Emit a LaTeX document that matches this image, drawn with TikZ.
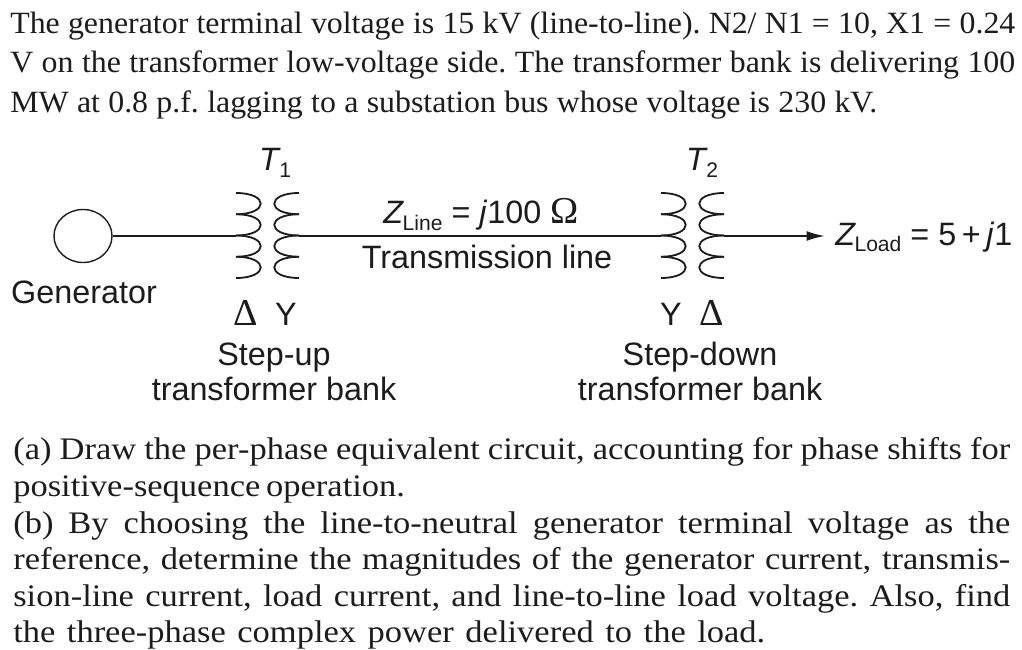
\documentclass[tikz,border=0pt]{standalone}
\usepackage{fontspec}
\setmainfont{Liberation Sans}
\newfontfamily\bodyfont{Liberation Serif}
\newfontfamily\topfont[FakeStretch=1.03]{Liberation Serif}
\newfontfamily\askfont[FakeStretch=1.1]{Liberation Serif}
\usetikzlibrary{arrows.meta,shapes.geometric}

\newlength{\pxu}
\setlength{\pxu}{0.025cm}
\definecolor{inkcol}{HTML}{1C1C1C}
\frenchspacing
\newcommand{\fitline}[2]{\makebox[#1\pxu][s]{#2}}
\newcommand{\subtxt}[1]{\kern-1pt\raisebox{-4.5pt}{\fontsize{15}{15}\selectfont #1}}
\newcommand{\serifsym}[1]{{\bodyfont\fontsize{27}{27}\selectfont #1}}
% four humps of a winding, dir = +1 bulges right, -1 bulges left
\newcommand{\winding}[2]{
	\foreach \k in {0,1,2,3}
		\draw[coilline] (#1,193+21.25*\k) .. controls ({#1+#2*33},193+21.25*\k) and ({#1+#2*33},214.25+21.25*\k) .. (#1,214.25+21.25*\k);
}

\tikzset{
	topline/.style={anchor=base west,inner sep=0pt,text=inkcol,font=\topfont\fontsize{22}{26}\selectfont},
	askline/.style={anchor=base west,inner sep=0pt,text=inkcol,font=\askfont\fontsize{22.3}{26}\selectfont},
	sanslabel/.style={anchor=base,inner sep=0pt,text=inkcol,font=\fontsize{23}{27}\selectfont},
	wire/.style={draw=inkcol,line width=1.4pt},
	coilline/.style={draw=inkcol,line width=1.3pt}
}

\begin{document}
\begin{tikzpicture}[x=0.025cm,y=-0.025cm]
	\useasboundingbox (0,0) rectangle (1022,650);
	% problem statement
	\node[topline] (top1) at (10,34) {\fitline{1005}{The generator terminal voltage is 15 kV (line-to-line). N2/ N1 = 10, X1 = 0.24}};
	\node[topline] (top2) at (10,73) {\fitline{1005}{V on the transformer low-voltage side. The transformer bank is delivering 100}};
	\node[topline] (top3) at (10,113) {\fitline{867}{MW at 0.8 p.f. lagging to a substation bus whose voltage is 230 kV.}};
	% one-line diagram
	\node[draw=inkcol,line width=1pt,ellipse,minimum width=58\pxu,minimum height=53\pxu,inner sep=0pt] (gen) at (83,236) {};
	\coordinate (t1a) at (236,236);
	\coordinate (t1b) at (299,236);
	\coordinate (t2a) at (661,236);
	\coordinate (t2b) at (724,236);
	\coordinate (tip) at (825,236);
	\winding{236}{1}
	\winding{299}{-1}
	\winding{661}{1}
	\winding{724}{-1}
	\draw[wire] (gen) -- (t1a);
	\draw[wire] (t1b) -- (t2a);
	\draw[wire,-{Latex[length=13pt,width=7pt]}] (t2b) -- (tip);
	\node[sanslabel] (t1name) at (275,171) {\textit{T}\subtxt{1}};
	\node[sanslabel] (t2name) at (702,171) {\textit{T}\subtxt{2}};
	\node[sanslabel] (genname) at (84,303.5) {Generator};
	\node[sanslabel] (zline) at (481,224) {\textit{Z}\subtxt{Line} = \textit{j}100 \serifsym{Ω}};
	\node[sanslabel] (tline) at (487,268.5) {Transmission line};
	\node[sanslabel,anchor=base west] (zload) at (835,245) {\textit{Z}\subtxt{Load} = 5\kern4pt+\kern4pt\textit{j}1};
	\node[sanslabel] (t1d) at (246,325) {\serifsym{Δ}};
	\node[sanslabel] (t1y) at (286,325) {Y};
	\node[sanslabel] (t2y) at (671,325) {Y};
	\node[sanslabel] (t2d) at (712,325) {\serifsym{Δ}};
	\node[sanslabel] (up1) at (274,365.5) {Step-up};
	\node[sanslabel] (up2) at (274,400.5) {transformer bank};
	\node[sanslabel] (down1) at (700,365.5) {Step-down};
	\node[sanslabel] (down2) at (700,400.5) {transformer bank};
	% questions
	\node[askline] (qa1) at (13,459) {\fitline{997}{(a) Draw the per-phase equivalent circuit, accounting for phase shifts for}};
	\node[askline] (qa2) at (13,496) {\fitline{382}{positive-sequence operation.}};
	\node[askline] (qb1) at (13,533) {\fitline{997}{(b) By choosing the line-to-neutral generator terminal voltage as the}};
	\node[askline] (qb2) at (13,569) {\fitline{997}{reference, determine the magnitudes of the generator current, transmis-}};
	\node[askline] (qb3) at (13,606) {\fitline{997}{sion-line current, load current, and line-to-line load voltage. Also, find}};
	\node[askline] (qb4) at (13,642) {\fitline{752}{the three-phase complex power delivered to the load.}};
\end{tikzpicture}
\end{document}
